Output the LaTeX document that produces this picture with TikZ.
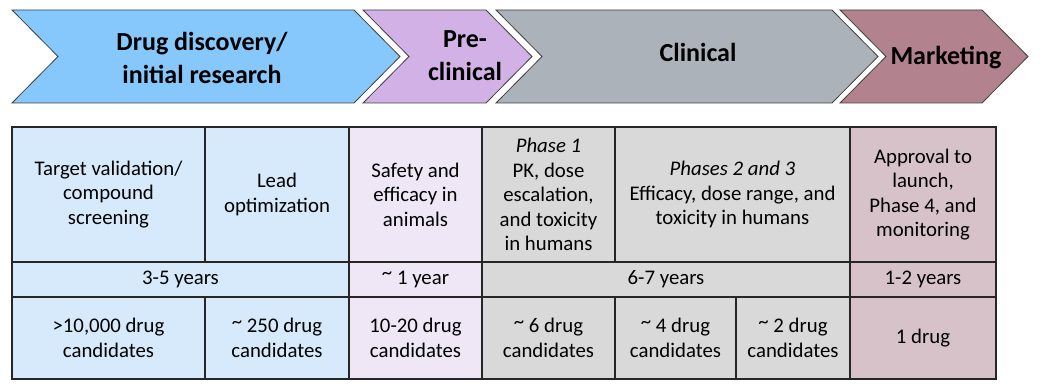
\documentclass[tikz,border=0pt]{standalone}
\usepackage{fontspec}
\setmainfont{Carlito}
\definecolor{bluechev}{RGB}{134,200,252}
\definecolor{purpchev}{RGB}{209,177,230}
\definecolor{greychev}{RGB}{171,178,185}
\definecolor{mauvechev}{RGB}{179,130,143}
\definecolor{bluecell}{RGB}{214,234,252}
\definecolor{purpcell}{RGB}{239,230,246}
\definecolor{greycell}{RGB}{217,217,217}
\definecolor{pinkcell}{RGB}{216,194,202}
\definecolor{edge}{RGB}{38,38,38}
\newcommand{\rtilde}{\raisebox{0.22em}{\char`\~}}
\tikzset{
  chev/.style={draw={rgb,255:red,64;green,64;blue,64}, line width=0.8pt, line join=miter},
  chevtext/.style={font=\fontsize{26}{33}\selectfont\bfseries, align=center, inner sep=0pt, text=black},
  cell/.style={draw=edge, line width=1.2pt, inner sep=0pt, align=center,
     font=\fontsize{20.8}{24.5}\selectfont, text=black},
}
\begin{document}
\begin{tikzpicture}[x=1pt,y=-1pt]
\useasboundingbox (0,0) rectangle (1046,390);
% chevrons
\path[chev, fill=bluechev] (12,10) -- (354,10) -- (400,56.5) -- (354,103) -- (12,103) -- (58,56.5) -- cycle;
\path[chev, fill=purpchev] (363,10) -- (486,10) -- (532,56.5) -- (486,103) -- (363,103) -- (409,56.5) -- cycle;
\path[chev, fill=greychev] (496,10) -- (832,10) -- (878,56.5) -- (832,103) -- (496,103) -- (542,56.5) -- cycle;
\path[chev, fill=mauvechev] (840,10) -- (982,10) -- (1028,56.5) -- (982,103) -- (840,103) -- (886,56.5) -- cycle;
\node[chevtext] (t1) at (202,58) {Drug discovery/\\initial research};
\node[chevtext] (t2) at (465,56) {Pre-\\clinical};
\node[chevtext] (t3) at (698,52) {Clinical};
\node[chevtext] (t4) at (946,58) {Marketing};
% row 1
\node[cell, fill=bluecell, minimum width=193, minimum height=135] (a1) at (108.5,194.5) {Target validation/\\compound\\screening};
\node[cell, fill=bluecell, minimum width=144, minimum height=135] (a2) at (277,194.5) {Lead\\optimization};
\node[cell, fill=purpcell, minimum width=133, minimum height=135] (a3) at (415.5,194.5) {Safety and\\efficacy in\\animals};
\node[cell, fill=greycell, minimum width=133, minimum height=135] (a4) at (548.5,194.5) {\textit{Phase 1}\\PK, dose\\escalation,\\and toxicity\\in humans};
\node[cell, fill=greycell, minimum width=235, minimum height=135] (a5) at (732.5,194.5) {\textit{Phases 2 and 3}\\Efficacy, dose range, and\\toxicity in humans};
\node[cell, fill=pinkcell, minimum width=146, minimum height=135] (a6) at (923,194.5) {Approval to\\launch,\\Phase 4, and\\monitoring};
% row 2
\node[cell, fill=bluecell, minimum width=337, minimum height=35] (b1) at (180.5,279.5) {3-5 years};
\node[cell, fill=purpcell, minimum width=133, minimum height=35] (b2) at (415.5,279.5) {\rtilde{} 1 year};
\node[cell, fill=greycell, minimum width=368, minimum height=35] (b3) at (666,279.5) {6-7 years};
\node[cell, fill=pinkcell, minimum width=146, minimum height=35] (b4) at (923,279.5) {1-2 years};
% row 3
\node[cell, fill=bluecell, minimum width=193, minimum height=82] (c1) at (108.5,338) {>10,000 drug\\candidates};
\node[cell, fill=bluecell, minimum width=144, minimum height=82] (c2) at (277,338) {\rtilde{} 250 drug\\candidates};
\node[cell, fill=purpcell, minimum width=133, minimum height=82] (c3) at (415.5,338) {10-20 drug\\candidates};
\node[cell, fill=greycell, minimum width=133, minimum height=82] (c4) at (548.5,338) {\rtilde{} 6 drug\\candidates};
\node[cell, fill=greycell, minimum width=121, minimum height=82] (c5) at (675.5,338) {\rtilde{} 4 drug\\candidates};
\node[cell, fill=greycell, minimum width=114, minimum height=82] (c6) at (793,338) {\rtilde{} 2 drug\\candidates};
\node[cell, fill=pinkcell, minimum width=146, minimum height=82] (c7) at (923,338) {1 drug};
\end{tikzpicture}
\end{document}
